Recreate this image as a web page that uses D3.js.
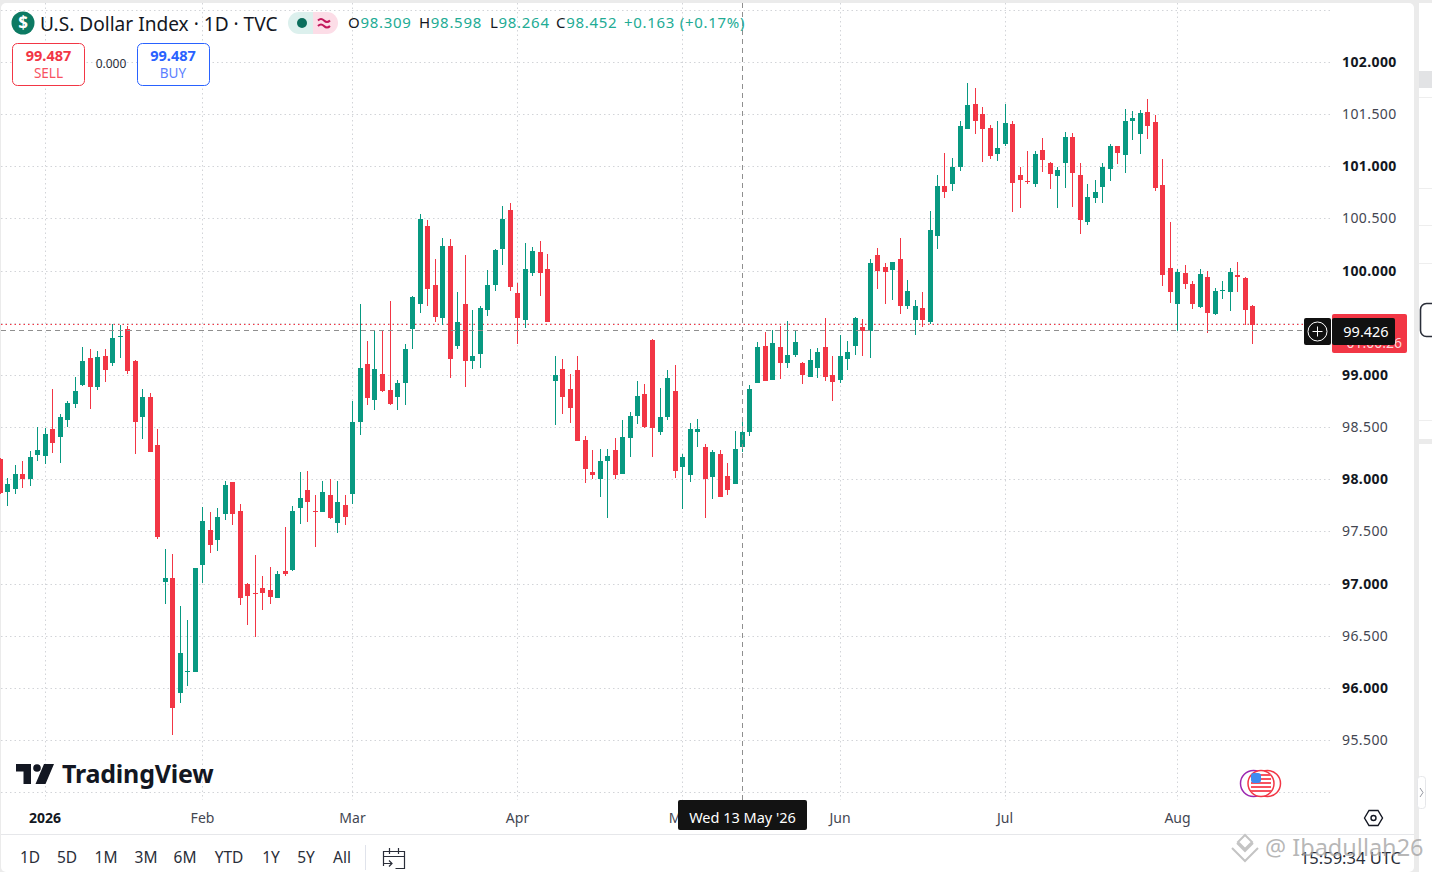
<!DOCTYPE html>
<html>
<head>
<meta charset="utf-8">
<script src="https://cdn.jsdelivr.net/npm/d3@7"></script>
<style>
  html, body { margin: 0; padding: 0; background: #ebebeb; overflow: hidden; }
  svg { display: block; }
  text { font-family: "Noto Sans", sans-serif; }
</style>
</head>
<body>
<svg id="chart" width="1432" height="872"></svg>
<script>
// DAILY CANDLES (one entry per trading day)
const opens = [
  98.198,97.882,97.910,98.054,98.006,98.236,98.227,98.486,98.409,98.572,
  98.725,98.907,99.166,98.888,99.185,99.118,99.371,99.444,99.137,98.601,
  98.792,98.332,97.018,97.057,95.954,96.159,96.156,97.181,97.517,97.421,
  97.670,97.977,97.699,96.999,96.913,96.961,96.942,96.865,97.124,97.133,
  97.728,97.901,97.700,97.690,97.853,97.585,97.757,97.863,98.553,99.109,
  98.764,99.013,98.860,98.793,98.927,99.445,99.684,100.432,99.866,99.541,
  100.240,99.282,99.684,99.138,99.196,99.627,99.866,100.211,100.585,99.790,
  99.531,99.981,100.183,100.020,98.945,99.060,98.869,99.051,98.380,98.073,
  98.006,98.179,98.284,98.054,98.399,98.610,98.821,99.338,98.457,98.600,
  98.849,98.121,98.044,98.457,98.313,98.025,98.246,98.035,97.958,98.309,
  98.457,98.926,99.281,98.955,99.272,99.118,99.195,99.118,98.984,99.070,
  99.272,99.003,98.955,99.157,99.281,99.463,99.425,100.154,100.039,100.010,
  100.115,99.665,99.531,99.646,99.511,100.336,100.815,100.834,100.997,101.361,
  101.601,101.505,101.371,101.122,101.218,101.409,100.921,100.863,100.834,101.160,
  101.036,100.911,101.036,101.285,100.921,100.470,100.700,100.806,100.978,101.198,
  101.112,101.438,101.313,101.524,101.428,100.824,100.029,99.684,99.981,99.875,
  99.655,99.942,99.588,99.812,99.799,99.962,99.933,99.665
];
const highs = [
  98.200,98.016,98.141,98.179,98.275,98.505,98.495,98.869,98.629,98.754,
  98.984,99.272,99.252,99.233,99.252,99.492,99.482,99.473,99.147,98.869,
  98.831,98.486,97.335,97.287,96.788,96.654,97.153,97.737,97.689,97.728,
  97.986,97.977,97.766,97.009,97.277,97.076,97.162,97.124,97.546,97.747,
  98.073,98.083,97.853,97.987,98.006,97.987,97.853,98.754,99.684,99.330,
  99.426,99.435,99.704,98.956,99.301,99.761,100.547,100.489,100.116,100.317,
  100.307,99.799,100.154,99.627,99.665,100.010,100.211,100.624,100.652,99.886,
  100.269,100.231,100.288,100.164,99.185,99.156,99.012,99.185,98.418,98.284,
  98.294,98.294,98.399,98.572,98.648,98.945,98.917,99.348,98.878,99.051,
  99.099,98.246,98.543,98.581,98.342,98.284,98.284,98.159,98.466,98.598,
  98.907,99.319,99.415,99.435,99.473,99.521,99.425,99.128,99.253,99.262,
  99.550,99.185,99.387,99.329,99.559,99.540,100.115,100.221,100.077,100.086,
  100.316,99.914,99.722,99.799,100.576,100.921,101.131,101.083,101.438,101.802,
  101.754,101.572,101.400,101.438,101.601,101.438,100.997,101.151,101.151,101.275,
  101.045,100.997,101.333,101.323,101.036,100.834,100.873,101.036,101.218,101.198,
  101.553,101.534,101.544,101.649,101.496,101.074,100.470,100.019,100.057,99.904,
  100.019,100.000,99.837,99.904,100.029,100.086,99.942,99.674
];
const lows = [
  97.860,97.748,97.863,97.920,97.939,98.179,98.150,98.255,98.160,98.505,
  98.687,98.898,98.677,98.859,98.936,99.089,99.166,99.013,98.246,98.390,
  98.265,97.431,96.808,95.552,95.859,96.022,96.156,97.009,97.296,97.315,
  97.613,97.565,96.798,96.606,96.491,96.750,96.808,96.865,97.076,97.124,
  97.575,97.594,97.355,97.690,97.623,97.489,97.565,97.767,98.420,98.707,
  98.668,98.841,98.707,98.668,98.707,99.253,99.589,99.665,99.512,99.474,
  98.975,99.253,98.889,99.061,99.071,99.569,99.809,100.058,99.809,99.301,
  99.454,99.953,99.761,99.512,98.524,98.629,98.543,98.370,97.968,98.006,
  97.834,97.632,98.006,98.054,98.217,98.533,98.495,98.217,98.428,98.572,
  98.016,97.719,97.977,98.313,97.632,97.814,97.834,97.853,97.958,98.264,
  98.418,98.926,98.945,98.955,98.965,99.070,99.176,98.917,98.984,98.975,
  98.946,98.754,98.927,99.051,99.195,99.185,99.166,99.828,99.684,99.722,
  99.588,99.636,99.387,99.463,99.492,100.211,100.700,100.767,100.959,101.361,
  101.313,101.045,101.074,101.055,101.198,100.566,100.604,100.834,100.806,100.949,
  100.786,100.604,100.796,100.614,100.355,100.441,100.652,100.652,100.863,101.026,
  100.940,101.256,101.122,101.266,100.767,99.856,99.693,99.425,99.827,99.636,
  99.645,99.406,99.578,99.732,99.617,99.799,99.482,99.300
];
const closes = [
  97.870,97.958,98.054,98.006,98.217,98.284,98.438,98.351,98.601,98.735,
  98.850,99.137,98.888,99.176,99.051,99.358,99.377,99.041,98.553,98.792,
  98.265,97.450,97.057,95.811,96.338,96.165,97.153,97.603,97.373,97.641,
  97.948,97.670,96.865,96.884,96.907,96.913,96.875,97.095,97.095,97.699,
  97.824,97.786,97.694,97.882,97.633,97.786,97.642,98.553,99.071,98.774,
  99.061,98.850,98.726,98.918,99.253,99.751,100.499,99.819,99.560,100.240,
  99.157,99.512,99.138,99.186,99.646,99.866,100.202,100.499,99.847,99.550,
  100.020,100.192,99.981,99.512,99.003,98.792,98.687,98.370,98.102,98.044,
  98.179,98.226,98.044,98.409,98.610,98.802,98.504,98.495,98.600,98.974,
  98.083,98.217,98.485,98.485,98.006,98.265,97.834,97.901,98.294,98.452,
  98.869,99.271,98.945,99.310,99.118,99.195,99.320,99.003,99.147,99.224,
  98.984,98.936,99.185,99.224,99.550,99.425,100.077,100.000,99.991,100.086,
  99.665,99.808,99.665,99.531,100.393,100.815,100.758,100.997,101.390,101.591,
  101.438,101.361,101.103,101.179,101.419,100.844,100.873,100.853,101.122,101.064,
  100.930,100.968,101.285,100.940,100.489,100.710,100.758,100.997,101.198,101.131,
  101.438,101.467,101.515,101.390,100.796,99.962,99.799,99.990,99.875,99.684,
  99.971,99.597,99.808,99.818,99.990,99.942,99.626,99.482
];

// AXES
const priceTicks = [102, 101.5, 101, 100.5, 100, 99, 98.5, 98, 97.5, 97, 96.5, 96, 95.5];
const gridPrices = [102.5, 102, 101.5, 101, 100.5, 100, 99.5, 99, 98.5, 98, 97.5, 97, 96.5, 96, 95.5, 95];
const monthIndex = [6, 27, 47, 69, 91, 112, 134, 157];
const monthLabels = ["2026", "Feb", "Mar", "Apr", "May", "Jun", "Jul", "Aug"];
const ranges = ["1D", "5D", "1M", "3M", "6M", "YTD", "1Y", "5Y", "All"];
const rangeX = [30, 67, 106, 146, 185, 229, 271, 306, 342];

// OTHER READINGS
const lastPrice = 99.487, crossPrice = 99.426, crossIndex = 99;
const legendKeys = ["O", "H", "L", "C"];
const legendValues = ["98.309", "98.598", "98.264", "98.452"];
const legendX = [348, 419, 490, 556];

const UP = "#089981", DOWN = "#f23645", INK = "#131722", GRID = "#d2d4d8";

const svg = d3.select("#chart");
const candles = opens.map((o, i) => ({ i, o, h: highs[i], l: lows[i], c: closes[i] }));

const x = d3.scaleLinear().domain([0, 167]).range([0, 1252.5]);
const y = d3.scaleLinear().domain([95.5, 102]).range([740, 62]);
const snap = i => Math.round(x(i) - 0.5) + 0.5;

// page panels
svg.append("rect").attr("x", 1).attr("y", 3).attr("width", 1413).attr("height", 869).attr("rx", 5).attr("fill", "#fff");
svg.append("rect").attr("x", 1419).attr("y", 3).attr("width", 13).attr("height", 436).attr("fill", "#fff");
svg.append("rect").attr("x", 1419).attr("y", 444).attr("width", 13).attr("height", 428).attr("fill", "#fff");
svg.append("rect").attr("x", 1419).attr("y", 71).attr("width", 13).attr("height", 17).attr("fill", "#e2e3e5");
[97, 188, 225, 263, 420].forEach(v => {
    svg.append("line").attr("x1", 1419).attr("x2", 1432).attr("y1", v + 0.5).attr("y2", v + 0.5).attr("stroke", "#eeeeee");
});
svg.append("rect").attr("x", 1420.5).attr("y", 303.5).attr("width", 24).attr("height", 33).attr("rx", 6)
    .attr("fill", "#fff").attr("stroke", "#2a2e39").attr("stroke-width", 1.6);

// grid
const grid = svg.append("g").attr("stroke", GRID).attr("stroke-dasharray", "1.5 3").attr("fill", "none");
gridPrices.forEach(p => {
    const gy = Math.round(y(p)) + 0.5;
    grid.append("line").attr("x1", 1).attr("x2", 1332).attr("y1", gy).attr("y2", gy);
});
monthIndex.forEach(m => {
    grid.append("line").attr("x1", snap(m)).attr("x2", snap(m)).attr("y1", 3).attr("y2", 800);
});

// last price line
svg.append("line").attr("x1", 1).attr("x2", 1332)
    .attr("y1", Math.floor(y(lastPrice)) + 0.5).attr("y2", Math.floor(y(lastPrice)) + 0.5)
    .attr("stroke", DOWN).attr("stroke-dasharray", "1.5 3");

// candles
const mark = svg.append("g").attr("shape-rendering", "crispEdges");
mark.selectAll("line").data(candles).join("line")
    .attr("x1", d => snap(d.i)).attr("x2", d => snap(d.i))
    .attr("y1", d => y(d.h)).attr("y2", d => y(d.l))
    .attr("stroke", d => d.c >= d.o ? UP : DOWN);
mark.selectAll("rect").data(candles).join("rect")
    .attr("x", d => snap(d.i) - 2.5)
    .attr("y", d => y(Math.max(d.o, d.c)))
    .attr("width", 5)
    .attr("height", d => Math.max(1, y(Math.min(d.o, d.c)) - y(Math.max(d.o, d.c))))
    .attr("fill", d => d.c >= d.o ? UP : DOWN);

// crosshair
svg.append("line").attr("x1", 1).attr("x2", 1304).attr("y1", Math.round(y(crossPrice)) + 0.5).attr("y2", Math.round(y(crossPrice)) + 0.5)
    .attr("stroke", "#8f8f8f").attr("stroke-dasharray", "5 4");
svg.append("line").attr("x1", snap(crossIndex)).attr("x2", snap(crossIndex)).attr("y1", 3).attr("y2", 800)
    .attr("stroke", "#8f8f8f").attr("stroke-dasharray", "5 4");

// price axis
const yAxis = svg.append("g").attr("transform", "translate(1342,0)")
    .call(d3.axisRight(y).tickValues(priceTicks).tickFormat(d3.format(".3f")).tickSize(0).tickPadding(0));
yAxis.select(".domain").remove();
yAxis.selectAll("text")
    .attr("font-size", 14)
    .attr("letter-spacing", 0.4)
    .attr("fill", d => d % 1 === 0 ? "#131722" : "#434651")
    .attr("font-weight", d => d % 1 === 0 ? 700 : 400);

// time axis
svg.append("line").attr("x1", 1).attr("x2", 1414).attr("y1", 834.5).attr("y2", 834.5).attr("stroke", "#e6e7ea");
const xAxis = svg.append("g").attr("transform", "translate(-0.5,813)")
    .call(d3.axisBottom(x).tickValues(monthIndex).tickFormat((d, i) => monthLabels[i]).tickSize(0).tickPadding(0));
xAxis.select(".domain").remove();
xAxis.selectAll("text")
    .attr("font-size", 14)
    .attr("fill", (d, i) => i === 0 ? "#131722" : "#434651")
    .attr("font-weight", (d, i) => i === 0 ? 700 : 400);

// crosshair date label
svg.append("rect").attr("x", 678).attr("y", 800).attr("width", 129).attr("height", 30).attr("rx", 2).attr("fill", "#131313");
svg.append("text").attr("x", 742.5).attr("y", 823).attr("text-anchor", "middle").attr("font-size", 14.5).attr("fill", "#fff").text("Wed 13 May '26");

// price tags on the right
svg.append("rect").attr("x", 1332).attr("y", 314).attr("width", 75).attr("height", 39).attr("rx", 2).attr("fill", DOWN);
svg.append("text").attr("x", 1402).attr("y", 348).attr("text-anchor", "end").attr("font-size", 14).attr("fill", "#ffd5da").text("01:00:26");
svg.append("rect").attr("x", 1332).attr("y", 318).attr("width", 63).attr("height", 27).attr("rx", 2).attr("fill", "#111");
svg.append("text").attr("x", 1366).attr("y", 337).attr("text-anchor", "middle").attr("font-size", 14.5).attr("fill", "#fff").text(d3.format(".3f")(crossPrice));
svg.append("rect").attr("x", 1304).attr("y", 318).attr("width", 27).attr("height", 27).attr("rx", 2).attr("fill", "#111");
svg.append("circle").attr("cx", 1317.5).attr("cy", 331.5).attr("r", 9.5).attr("fill", "none").attr("stroke", "#fff");
svg.append("path").attr("d", "M1317.5 326.5v10M1312.5 331.5h10").attr("stroke", "#fff").attr("fill", "none");

// header
svg.append("circle").attr("cx", 23).attr("cy", 23).attr("r", 11.5).attr("fill", "#0c7a63");
svg.append("text").attr("x", 23).attr("y", 29).attr("text-anchor", "middle").attr("font-size", 17).attr("font-weight", 700).attr("fill", "#fff").text("$");
svg.append("text").attr("x", 40).attr("y", 31).attr("font-size", 19.1).attr("fill", INK).text("U.S. Dollar Index · 1D · TVC");

svg.append("path").attr("d", "M313 12h-14a11 11 0 0 0 0 22h14z").attr("fill", "#dcf0ed");
svg.append("path").attr("d", "M313 12h14a11 11 0 0 1 0 22h-14z").attr("fill", "#fcdde7");
svg.append("circle").attr("cx", 302).attr("cy", 23).attr("r", 5).attr("fill", "#0b6e5c");
svg.append("path").attr("d", "M318 20.5q3-3 6 0t6 0M318 26q3-3 6 0t6 0").attr("fill", "none").attr("stroke", "#c2185b").attr("stroke-width", 2);

legendKeys.forEach((k, i) => {
    const t = svg.append("text").attr("x", legendX[i]).attr("y", 28).attr("font-size", 15).attr("letter-spacing", 0.7);
    t.append("tspan").attr("fill", INK).text(k);
    t.append("tspan").attr("fill", "#22ab94").text(legendValues[i]);
});
svg.append("text").attr("x", 624).attr("y", 28).attr("font-size", 15).attr("letter-spacing", 0.7).attr("fill", "#22ab94").text("+0.163 (+0.17%)");

// sell / buy
svg.append("rect").attr("x", 12.5).attr("y", 43.5).attr("width", 72).attr("height", 42).attr("rx", 5).attr("fill", "#fff").attr("stroke", DOWN);
svg.append("text").attr("x", 48.5).attr("y", 61).attr("text-anchor", "middle").attr("font-size", 14.5).attr("font-weight", 700).attr("fill", DOWN).text("99.487");
svg.append("text").attr("x", 48.5).attr("y", 78).attr("text-anchor", "middle").attr("font-size", 13.5).attr("fill", "#f7525f").text("SELL");
svg.append("text").attr("x", 111).attr("y", 68).attr("text-anchor", "middle").attr("font-size", 12).attr("fill", "#2a2e39").text("0.000");
svg.append("rect").attr("x", 137.5).attr("y", 43.5).attr("width", 72).attr("height", 42).attr("rx", 5).attr("fill", "#fff").attr("stroke", "#2962ff");
svg.append("text").attr("x", 173).attr("y", 61).attr("text-anchor", "middle").attr("font-size", 14.5).attr("font-weight", 700).attr("fill", "#2962ff").text("99.487");
svg.append("text").attr("x", 173).attr("y", 78).attr("text-anchor", "middle").attr("font-size", 13.5).attr("fill", "#5b7fff").text("BUY");

// tradingview logo
svg.append("path").attr("d", "M16 764h15v20h-7.5v-12.500h-7.500zM44 764h10l-8.500 20h-10z").attr("fill", "#131722");
svg.append("circle").attr("cx", 37).attr("cy", 768).attr("r", 3.8).attr("fill", "#131722");
svg.append("text").attr("x", 62).attr("y", 783).attr("font-size", 25).attr("font-weight", 700).attr("letter-spacing", -0.2).attr("fill", "#131722").text("TradingView");

// event badges
svg.append("circle").attr("cx", 1253.5).attr("cy", 783.5).attr("r", 13).attr("fill", "#fff").attr("stroke", "#9c27b0").attr("stroke-width", 1.5);
svg.append("circle").attr("cx", 1267.5).attr("cy", 783.5).attr("r", 13).attr("fill", "#fff").attr("stroke", DOWN).attr("stroke-width", 1.5);
svg.append("circle").attr("cx", 1261).attr("cy", 783.5).attr("r", 13).attr("fill", "#fff").attr("stroke", DOWN).attr("stroke-width", 1.5);
const flag = svg.append("g");
d3.range(5).forEach(k => {
    flag.append("rect").attr("x", 1251).attr("y", 774 + k * 4).attr("width", 20).attr("height", 2).attr("fill", "#f7525f");
});
svg.append("rect").attr("x", 1251).attr("y", 773).attr("width", 10).attr("height", 10).attr("rx", 3).attr("fill", "#3d8bf0");

// settings hexagon
svg.append("path").attr("d", "M1364.500 818l4.500-7.500h9l4.500 7.500l-4.500 7.500h-9z").attr("fill", "none").attr("stroke", "#131722").attr("stroke-width", 1.4);
svg.append("circle").attr("cx", 1373.500).attr("cy", 818).attr("r", 2.5).attr("fill", "none").attr("stroke", "#131722").attr("stroke-width", 1.4);

// range buttons
ranges.forEach((r, i) => {
    svg.append("text").attr("x", rangeX[i]).attr("y", 863).attr("text-anchor", "middle").attr("font-size", 15.5).attr("fill", "#2a2e39").text(r);
});
svg.append("line").attr("x1", 365.5).attr("x2", 365.5).attr("y1", 845).attr("y2", 870).attr("stroke", "#e0e3eb");
svg.append("path").attr("d", "M383.500 866v-14.500h21v17h-9M383.500 856.500h21M389.500 848v6M398.500 848v6M383 863.500h9m-3-3l3 3l-3 3")
    .attr("fill", "none").attr("stroke", "#2a2e39").attr("stroke-width", 1.2);

svg.append("text").attr("x", 1401).attr("y", 864).attr("text-anchor", "end").attr("font-size", 16.5).attr("fill", "#2a2e39").text("15:59:34 UTC");

// side chevron
svg.append("rect").attr("x", 1417.500).attr("y", 776.500).attr("width", 8).attr("height", 32).attr("rx", 3).attr("fill", "#fff").attr("stroke", "#e6e7ea");
svg.append("path").attr("d", "M1420 788l3 4.500l-3 4.500").attr("fill", "none").attr("stroke", "#9598a1");

// watermark
const wm = svg.append("g").attr("fill", "none").attr("stroke", "#c4c4c4").attr("stroke-width", 2);
wm.append("path").attr("d", "M1245 835l7 7l-7 7l-7-7zM1237 843l8 8l8-8M1232 848l13 13l13-13");
svg.append("text").attr("x", 1265).attr("y", 856).attr("font-size", 23.5).attr("fill", "#9f9f9f").attr("fill-opacity", 0.75).text("@ Ibadullah26");
</script>
</body>
</html>
